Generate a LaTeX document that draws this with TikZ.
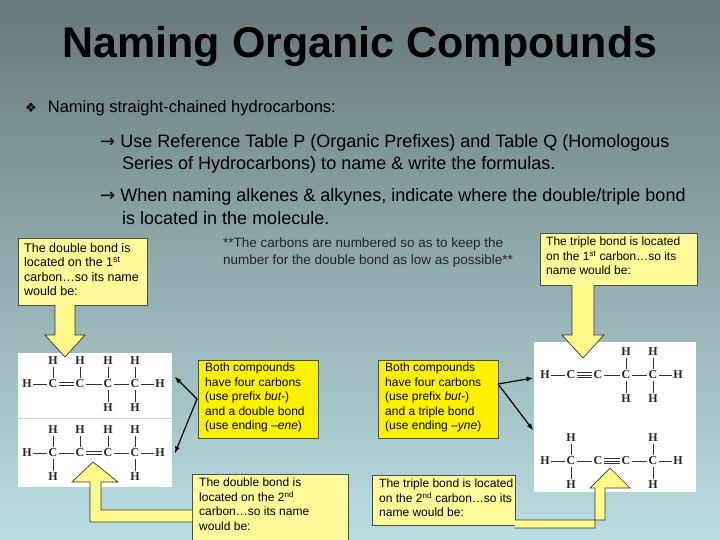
\documentclass[tikz,border=0pt]{standalone}
\usepackage{fontspec}
\usetikzlibrary{calc}
\setmainfont{Liberation Sans}
\newfontfamily\djfont{DejaVu Sans}
\newfontfamily\molf{Liberation Serif}
\newcommand{\molec}[7]{%
 \node[atm] (#1H0) at (#2,#3) {H};
 \foreach \i/\dx in {1/26,2/53,3/81,4/108} {\node[atm] (#1C\i) at (#2+\dx,#3) {C};}
 \node[atm] (#1H5) at (#2+133,#3) {H};
 \foreach \i in {#4} {\node[atm] (#1T\i) at ($(#1C\i)+(0,-23)$) {H}; \draw[bond] (#1T\i) -- (#1C\i);}
 \foreach \i in {#5} {\node[atm] (#1B\i) at ($(#1C\i)+(0,24)$) {H}; \draw[bond] (#1B\i) -- (#1C\i);}
 \draw[bond] (#1H0) -- (#1C1); \draw[bond] (#1C4) -- (#1H5);
 \foreach \i/\j in {1/2,2/3,3/4} {%
   \ifnum\i=#6\relax
     \foreach \o in {#7} {\draw[bond] ($(#1C\i.east)+(0,\o)$) -- ($(#1C\j.west)+(0,\o)$);}
   \else \draw[bond] (#1C\i) -- (#1C\j); \fi}
}
\begin{document}
\begin{tikzpicture}[x=1pt,y=-1pt,
  pale/.style={draw=black!70,fill=yellow!40,line width=0.6pt,anchor=north west,inner sep=0pt},
  bright/.style={draw=black!70,fill=yellow,line width=0.6pt,anchor=north west,inner sep=0pt},
  atm/.style={font=\molf\bfseries\fontsize{12}{10}\selectfont,inner sep=1.5pt,text=black!85},
  bond/.style={line width=0.7pt,black!80},
  yarrow/.style={fill=yellow!45,draw=black!80,line width=0.7pt,line join=miter},
  blk/.style={-latex,line width=1.2pt,black},
  txt/.style={anchor=west,inner sep=0pt,font=\fontsize{18}{18}\selectfont},
  box/.style={font=\fontsize{12}{14.5}\selectfont,align=left,anchor=north west,inner sep=0pt}]
\shade[top color={rgb,255:red,104;green,121;blue,122},bottom color={rgb,255:red,186;green,222;blue,226}] (0,0) rectangle (720,540);
\useasboundingbox (0,0) rectangle (720,540);
\node[font=\bfseries\fontsize{43}{43}\selectfont] (title) at (360,46) {Naming Organic Compounds};
\node[txt,font=\fontsize{16.5}{16}\selectfont] (b0) at (25,108) {{\djfont\fontsize{13}{13}\selectfont ❖}\hspace{11pt}Naming straight-chained hydrocarbons:};
\node[txt] (b1) at (100,143) {{\djfont→} Use Reference Table P (Organic Prefixes) and Table Q (Homologous};
\node[txt] (b1b) at (122,165) {Series of Hydrocarbons) to name \& write the formulas.};
\node[txt] (b2) at (100,197) {{\djfont→} When naming alkenes \& alkynes, indicate where the double/triple bond};
\node[txt] (b2b) at (122,218) {is located in the molecule.};
\node[box,font=\fontsize{13.5}{17}\selectfont,text=black!85] (note) at (223,238) {**The carbons are numbered so as to keep the\\number for the double bond as low as possible**};
% white panels
\fill[white] (18,353) rectangle (172,487);
\draw[black!20] (18,418) -- (172,418);
\fill[white] (534,342) rectangle (696,492);
\molec{a}{27}{384}{1,2,3,4}{3,4}{1}{-1.5,1.5}
\molec{b}{27}{453}{1,2,3,4}{1,4}{2}{-1.5,1.5}
\molec{c}{545}{375}{3,4}{3,4}{1}{-2.2,0,2.2}
\molec{d}{545}{461}{1,4}{1,4}{2}{-2.2,0,2.2}
% pale boxes
\node[pale,minimum width=129pt,minimum height=67pt] (p1) at (18,238) {};
\node[box,font=\fontsize{12.5}{14.5}\selectfont] at (24,243) {The double bond is\\located on the 1\textsuperscript{st}\\carbon…so its name\\would be:};
\node[pale,minimum width=157pt,minimum height=52pt] (p2) at (540,233) {};
\node[box] at (546,237) {The triple bond is located\\on the 1\textsuperscript{st} carbon…so its\\name would be:};
\node[pale,minimum width=156pt,minimum height=70pt] (p3) at (192,474) {};
\node[box] at (199,478) {The double bond is\\located on the 2\textsuperscript{nd}\\carbon…so its name\\would be:};
\node[pale,minimum width=143pt,minimum height=50pt] (p4) at (372,475) {};
\node[box] at (379,479) {The triple bond is located\\on the 2\textsuperscript{nd} carbon…so its\\name would be:};
% bright boxes
\node[bright,minimum width=120pt,minimum height=78pt] (y1) at (198,360) {};
\node[box] at (205,363) {Both compounds\\have four carbons\\(use prefix \textit{but-})\\and a double bond\\(use ending \textit{–ene})};
\node[bright,minimum width=120pt,minimum height=78pt] (y2) at (378,360) {};
\node[box] at (385,363) {Both compounds\\have four carbons\\(use prefix \textit{but-})\\and a triple bond\\(use ending \textit{–yne})};
% black arrows
\coordinate (k1) at (197,399);
\coordinate (k2) at (498,384);
\draw[blk] (k1) -- (175,377);
\draw[blk] (k1) -- (175,453);
\draw[blk] (k2) -- (533,378);
\draw[blk] (k2) -- (533,430);
% yellow block arrows
\draw[yarrow] (55,305) -- (55,335) -- (45,335) -- (65,357) -- (85,335) -- (75,335) -- (75,305);
\draw[yarrow] (572,285) -- (572,335) -- (562,335) -- (583,358) -- (604,335) -- (594,335) -- (594,285);
\draw[yarrow] (192,510) -- (101,510) -- (101,482) -- (118,482) -- (93,462) -- (72,482) -- (90,482) -- (90,522) -- (192,522);
\draw[yarrow] (515,520) -- (605,520) -- (605,488) -- (630,488) -- (610,468) -- (590,488) -- (595,488) -- (595,528) -- (515,528);
\end{tikzpicture}
\end{document}
